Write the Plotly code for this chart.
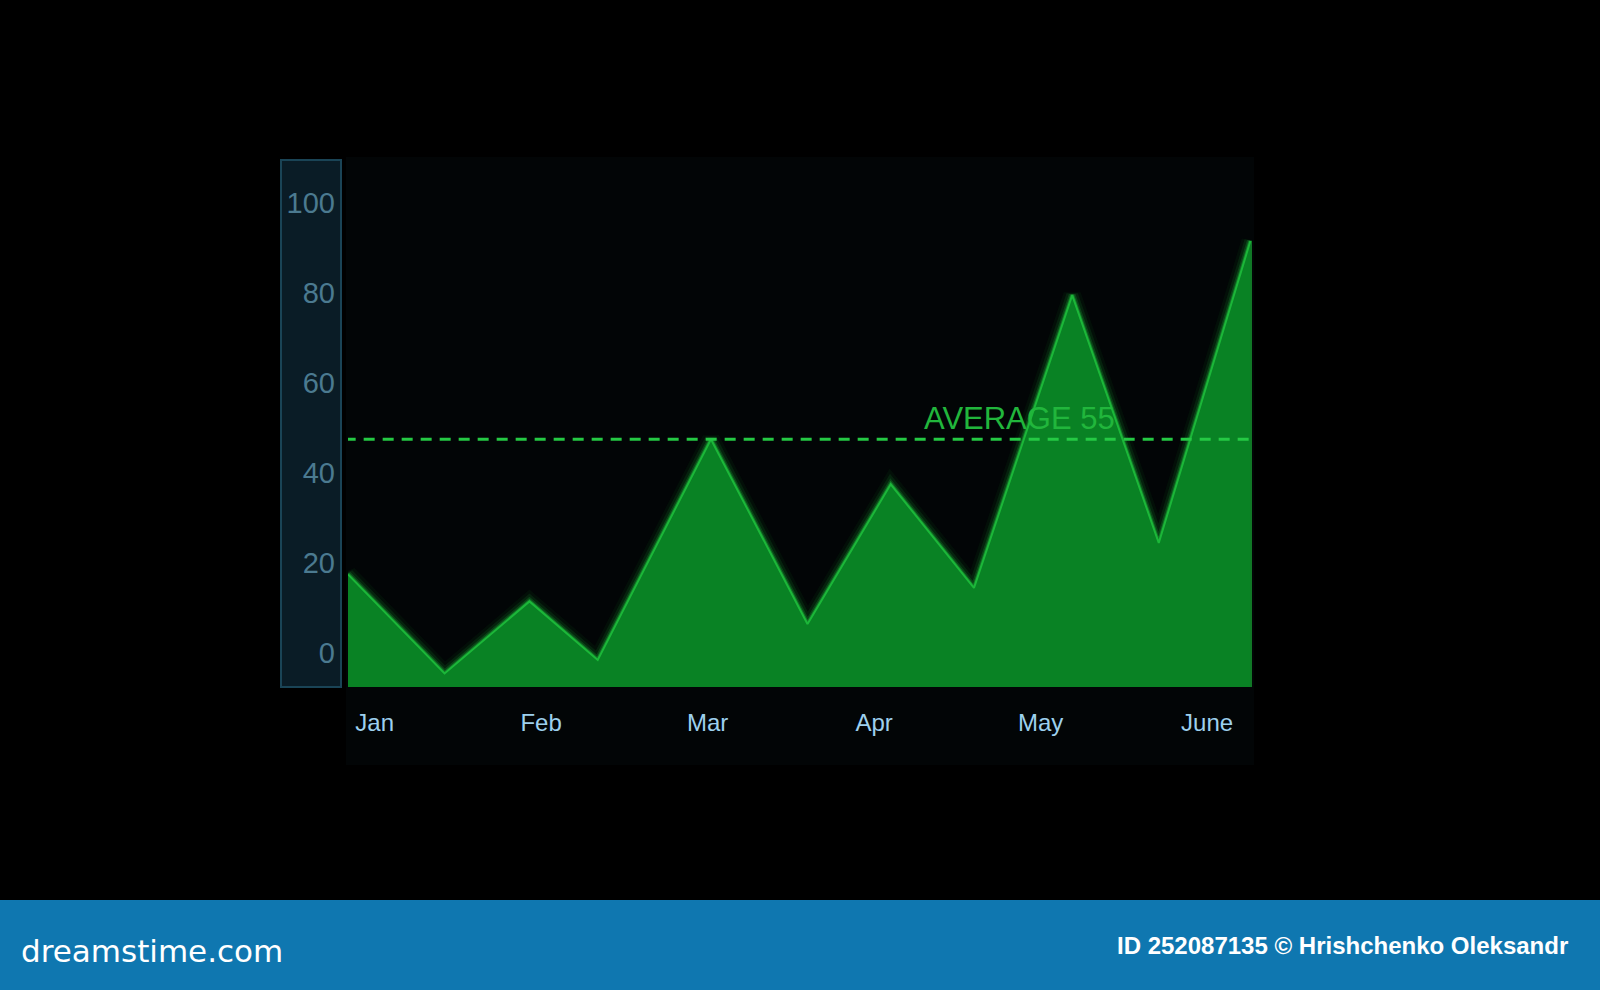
import plotly.graph_objects as go

# ---- data ----
months = ["Jan", "Feb", "Mar", "Apr", "May", "June"]
month_pos = [0, 1, 2, 3, 4, 5]
series_x = [-0.16, 0.42, 0.93, 1.34, 2.02, 2.60, 3.10, 3.60, 4.19, 4.71, 5.26]
series_y = [25, 3, 19, 6, 55, 14, 45, 22, 87, 32, 99]
average_value = 55
y_ticks = [0, 20, 40, 60, 80, 100]
avg_label = "AVERAGE 55"
banner_left = "dreamstime.com"
banner_right = "ID 252087135 © Hrishchenko Oleksandr"

# ---- layout geometry (pixels) ----
W, H = 1600, 990
L, R, T, B = 348, 348, 160, 303
pw, ph = W - L - R, H - T - B
XR = [-0.16, 5.27]
YR = [0, 117]


def px_x(p):
    return (p - L) / pw


def px_y(p):
    return (H - B - p) / ph


FONT = "Liberation Sans, Arial, sans-serif"

fig = go.Figure()

# glow edge (drawn below the fill)
gx = [series_x[0]] + series_x + [series_x[-1]]
gy = [0] + series_y + [0]
for w, a in [(18, 0.05), (12, 0.10), (7, 0.18), (4, 0.35)]:
    fig.add_trace(go.Scatter(x=gx, y=gy, mode="lines",
                             line=dict(color=f"rgba(35,215,65,{a})", width=w),
                             hoverinfo="skip", showlegend=False))

# area
fig.add_trace(go.Scatter(x=series_x, y=series_y, mode="lines", fill="tozeroy",
                         fillcolor="#098224",
                         line=dict(color="rgba(30,190,60,0.9)", width=2),
                         hoverinfo="skip", showlegend=False))

# average dashed line
fig.add_trace(go.Scatter(x=[XR[0] - 0.02, XR[1] + 0.02], y=[average_value, average_value],
                         mode="lines", cliponaxis=False,
                         line=dict(color="#25c944", width=3, dash="11px,8px"),
                         hoverinfo="skip", showlegend=False))

fig.add_annotation(x=3.31, y=average_value, xanchor="left", yanchor="bottom",
                   yshift=1, xshift=-4, text=avg_label, showarrow=False,
                   font=dict(family=FONT, size=31, color="#21b63c"))

shapes = [
    # faint chart panel
    dict(type="rect", xref="paper", yref="paper", layer="below",
         x0=px_x(346), x1=px_x(1254), y0=px_y(765), y1=px_y(157),
         fillcolor="#020506", line=dict(width=0)),
    # y-axis side panel
    dict(type="rect", xref="paper", yref="paper", layer="below",
         x0=px_x(281), x1=px_x(341), y0=px_y(687), y1=px_y(160),
         fillcolor="#0a1c26", line=dict(color="#1a4456", width=2)),
    # bottom banner
    dict(type="rect", xref="paper", yref="paper", layer="above",
         x0=px_x(-5), x1=px_x(W + 5), y0=px_y(H + 5), y1=px_y(900),
         fillcolor="#0f77b0", line=dict(width=0)),
]

fig.add_annotation(xref="paper", yref="paper", x=px_x(19), y=px_y(951),
                   xanchor="left", yanchor="middle", showarrow=False,
                   text=banner_left,
                   font=dict(family="DejaVu Sans, sans-serif", size=31, color="white"))
fig.add_annotation(xref="paper", yref="paper", x=px_x(1570), y=px_y(945),
                   xanchor="right", yanchor="middle", showarrow=False,
                   text=f"<b>{banner_right}</b>",
                   font=dict(family=FONT, size=24, color="white"))

fig.update_layout(
    width=W, height=H, autosize=False,
    margin=dict(l=L, r=R, t=T, b=B, pad=0),
    paper_bgcolor="black", plot_bgcolor="rgba(0,0,0,0)",
    shapes=shapes,
    xaxis=dict(range=XR, tickvals=month_pos, ticktext=months, showgrid=False,
               zeroline=False, showline=False, ticks="", ticklabelstandoff=19,
               tickfont=dict(family=FONT, size=24, color="#9dd0ee")),
    yaxis=dict(range=YR, tickvals=y_ticks, showgrid=False, zeroline=False,
               showline=False, ticks="", ticklabelstandoff=12, ticklabelshift=-34,
               tickfont=dict(family=FONT, size=29, color="#4b7a90")),
)

fig.write_html("out.html", config={"displayModeBar": False},
               post_script="document.body.style.margin='0';")
